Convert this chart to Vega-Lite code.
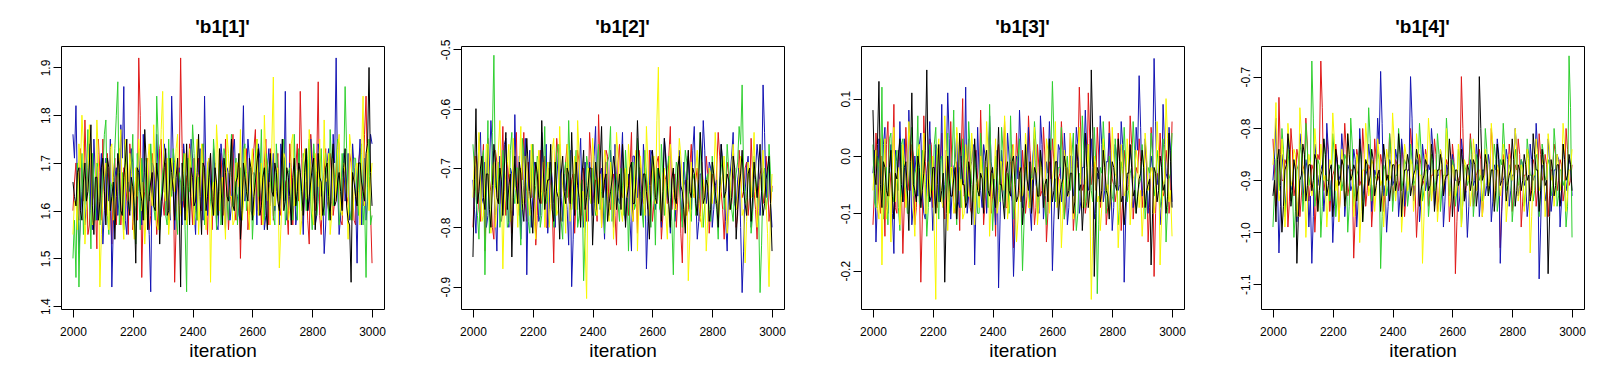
{
"$schema":"https://vega.github.io/schema/vega-lite/v6.json",
"background":"white",
"padding":{"left":38,"top":17,"right":0,"bottom":0},
"spacing":77,
"bounds":"flush",
"config":{
 "view":{"stroke":"black","strokeWidth":1},
 "font":"Liberation Sans",
 "axis":{"domain":false,"grid":false,"ticks":true,"tickColor":"black","tickSize":8,"tickWidth":1,"labelFont":"Liberation Sans","labelFontSize":12,"labelColor":"black","titleFont":"Liberation Sans","titleFontSize":19,"titleFontWeight":"normal","titleColor":"black"},
 "axisX":{"labelPadding":18,"labelBaseline":"alphabetic","titleBaseline":"alphabetic","titleY":47,"format":"d"},
 "axisY":{"labelAngle":270,"labelAlign":"center","labelBaseline":"alphabetic","labelPadding":4,"title":null,"labelExpr":"datum.value < 0 ? '-' + format(-datum.value, '.1f') : format(datum.value, '.1f')"},
 "title":{"font":"Liberation Sans","fontSize":19,"fontWeight":"bold","color":"black","anchor":"middle","frame":"group","baseline":"alphabetic","offset":9},
 "line":{"strokeWidth":1,"clip":true}
},
"datasets":{
"p1":[
{"i":2000,"a":1.60,"b":1.76,"c":1.50,"d":1.55,"e":1.66},
{"i":2010,"a":1.70,"b":1.82,"c":1.46,"d":1.62,"e":1.61},
{"i":2020,"a":1.58,"b":1.51,"c":1.44,"d":1.74,"e":1.69},
{"i":2030,"a":1.66,"b":1.64,"c":1.72,"d":1.80,"e":1.58},
{"i":2040,"a":1.79,"b":1.57,"c":1.61,"d":1.53,"e":1.70},
{"i":2050,"a":1.55,"b":1.69,"c":1.77,"d":1.66,"e":1.64},
{"i":2060,"a":1.72,"b":1.60,"c":1.52,"d":1.71,"e":1.78},
{"i":2070,"a":1.63,"b":1.75,"c":1.66,"d":1.58,"e":1.55},
{"i":2080,"a":1.52,"b":1.58,"c":1.70,"d":1.79,"e":1.67},
{"i":2090,"a":1.68,"b":1.66,"c":1.57,"d":1.44,"e":1.62},
{"i":2100,"a":1.75,"b":1.53,"c":1.68,"d":1.63,"e":1.71},
{"i":2110,"a":1.59,"b":1.71,"c":1.79,"d":1.70,"e":1.57},
{"i":2120,"a":1.66,"b":1.62,"c":1.55,"d":1.56,"e":1.69},
{"i":2130,"a":1.53,"b":1.44,"c":1.65,"d":1.74,"e":1.63},
{"i":2140,"a":1.71,"b":1.67,"c":1.73,"d":1.61,"e":1.54},
{"i":2150,"a":1.64,"b":1.59,"c":1.87,"d":1.68,"e":1.72},
{"i":2160,"a":1.57,"b":1.78,"c":1.62,"d":1.77,"e":1.60},
{"i":2170,"a":1.69,"b":1.86,"c":1.56,"d":1.54,"e":1.67},
{"i":2180,"a":1.62,"b":1.55,"c":1.69,"d":1.65,"e":1.75},
{"i":2190,"a":1.74,"b":1.64,"c":1.60,"d":1.72,"e":1.59},
{"i":2200,"a":1.56,"b":1.70,"c":1.76,"d":1.58,"e":1.65},
{"i":2210,"a":1.67,"b":1.61,"c":1.53,"d":1.69,"e":1.49},
{"i":2220,"a":1.92,"b":1.73,"c":1.64,"d":1.75,"e":1.68},
{"i":2230,"a":1.46,"b":1.57,"c":1.71,"d":1.60,"e":1.62},
{"i":2240,"a":1.64,"b":1.68,"c":1.58,"d":1.53,"e":1.77},
{"i":2250,"a":1.71,"b":1.60,"c":1.67,"d":1.70,"e":1.56},
{"i":2260,"a":1.59,"b":1.43,"c":1.74,"d":1.64,"e":1.66},
{"i":2270,"a":1.68,"b":1.69,"c":1.61,"d":1.78,"e":1.61},
{"i":2280,"a":1.55,"b":1.76,"c":1.84,"d":1.57,"e":1.70},
{"i":2290,"a":1.73,"b":1.58,"c":1.56,"d":1.66,"e":1.53},
{"i":2300,"a":1.62,"b":1.65,"c":1.68,"d":1.85,"e":1.64},
{"i":2310,"a":1.70,"b":1.72,"c":1.59,"d":1.62,"e":1.73},
{"i":2320,"a":1.58,"b":1.62,"c":1.75,"d":1.55,"e":1.60},
{"i":2330,"a":1.65,"b":1.84,"c":1.63,"d":1.71,"e":1.68},
{"i":2340,"a":1.45,"b":1.56,"c":1.70,"d":1.64,"e":1.58},
{"i":2350,"a":1.69,"b":1.67,"c":1.55,"d":1.76,"e":1.71},
{"i":2360,"a":1.92,"b":1.61,"c":1.66,"d":1.60,"e":1.44},
{"i":2370,"a":1.61,"b":1.74,"c":1.72,"d":1.68,"e":1.65},
{"i":2380,"a":1.67,"b":1.58,"c":1.43,"d":1.57,"e":1.74},
{"i":2390,"a":1.74,"b":1.66,"c":1.64,"d":1.73,"e":1.57},
{"i":2400,"a":1.57,"b":1.71,"c":1.78,"d":1.62,"e":1.67},
{"i":2410,"a":1.66,"b":1.55,"c":1.60,"d":1.69,"e":1.62},
{"i":2420,"a":1.71,"b":1.68,"c":1.67,"d":1.55,"e":1.76},
{"i":2430,"a":1.60,"b":1.62,"c":1.73,"d":1.74,"e":1.55},
{"i":2440,"a":1.68,"b":1.84,"c":1.57,"d":1.63,"e":1.69},
{"i":2450,"a":1.55,"b":1.59,"c":1.69,"d":1.70,"e":1.63},
{"i":2460,"a":1.72,"b":1.66,"c":1.62,"d":1.45,"e":1.72},
{"i":2470,"a":1.63,"b":1.73,"c":1.75,"d":1.66,"e":1.59},
{"i":2480,"a":1.58,"b":1.57,"c":1.56,"d":1.78,"e":1.66},
{"i":2490,"a":1.69,"b":1.64,"c":1.70,"d":1.60,"e":1.73},
{"i":2500,"a":1.64,"b":1.70,"c":1.63,"d":1.67,"e":1.57},
{"i":2510,"a":1.75,"b":1.56,"c":1.71,"d":1.54,"e":1.68},
{"i":2520,"a":1.56,"b":1.68,"c":1.58,"d":1.72,"e":1.62},
{"i":2530,"a":1.67,"b":1.61,"c":1.76,"d":1.63,"e":1.75},
{"i":2540,"a":1.61,"b":1.75,"c":1.64,"d":1.58,"e":1.60},
{"i":2550,"a":1.70,"b":1.63,"c":1.57,"d":1.70,"e":1.67},
{"i":2560,"a":1.50,"b":1.58,"c":1.69,"d":1.77,"e":1.54},
{"i":2570,"a":1.66,"b":1.82,"c":1.73,"d":1.61,"e":1.70},
{"i":2580,"a":1.73,"b":1.65,"c":1.60,"d":1.68,"e":1.64},
{"i":2590,"a":1.59,"b":1.71,"c":1.68,"d":1.56,"e":1.71},
{"i":2600,"a":1.68,"b":1.59,"c":1.54,"d":1.73,"e":1.58},
{"i":2610,"a":1.77,"b":1.67,"c":1.72,"d":1.65,"e":1.66},
{"i":2620,"a":1.62,"b":1.74,"c":1.63,"d":1.59,"e":1.73},
{"i":2630,"a":1.57,"b":1.62,"c":1.77,"d":1.70,"e":1.61},
{"i":2640,"a":1.70,"b":1.56,"c":1.58,"d":1.80,"e":1.69},
{"i":2650,"a":1.64,"b":1.69,"c":1.70,"d":1.62,"e":1.56},
{"i":2660,"a":1.73,"b":1.61,"c":1.65,"d":1.57,"e":1.72},
{"i":2670,"a":1.58,"b":1.72,"c":1.59,"d":1.88,"e":1.63},
{"i":2680,"a":1.67,"b":1.64,"c":1.74,"d":1.66,"e":1.68},
{"i":2690,"a":1.61,"b":1.57,"c":1.62,"d":1.48,"e":1.60},
{"i":2700,"a":1.72,"b":1.70,"c":1.71,"d":1.64,"e":1.75},
{"i":2710,"a":1.66,"b":1.85,"c":1.57,"d":1.71,"e":1.62},
{"i":2720,"a":1.55,"b":1.63,"c":1.68,"d":1.58,"e":1.67},
{"i":2730,"a":1.69,"b":1.58,"c":1.63,"d":1.74,"e":1.57},
{"i":2740,"a":1.63,"b":1.71,"c":1.76,"d":1.61,"e":1.71},
{"i":2750,"a":1.74,"b":1.60,"c":1.58,"d":1.68,"e":1.64},
{"i":2760,"a":1.85,"b":1.68,"c":1.67,"d":1.55,"e":1.68},
{"i":2770,"a":1.58,"b":1.55,"c":1.72,"d":1.70,"e":1.59},
{"i":2780,"a":1.66,"b":1.73,"c":1.60,"d":1.63,"e":1.73},
{"i":2790,"a":1.53,"b":1.62,"c":1.75,"d":1.77,"e":1.63},
{"i":2800,"a":1.71,"b":1.68,"c":1.56,"d":1.60,"e":1.69},
{"i":2810,"a":1.60,"b":1.57,"c":1.69,"d":1.72,"e":1.56},
{"i":2820,"a":1.87,"b":1.74,"c":1.62,"d":1.65,"e":1.72},
{"i":2830,"a":1.55,"b":1.63,"c":1.73,"d":1.58,"e":1.66},
{"i":2840,"a":1.68,"b":1.51,"c":1.59,"d":1.79,"e":1.61},
{"i":2850,"a":1.62,"b":1.70,"c":1.66,"d":1.67,"e":1.70},
{"i":2860,"a":1.72,"b":1.60,"c":1.77,"d":1.55,"e":1.58},
{"i":2870,"a":1.59,"b":1.76,"c":1.61,"d":1.71,"e":1.74},
{"i":2880,"a":1.66,"b":1.92,"c":1.70,"d":1.62,"e":1.62},
{"i":2890,"a":1.74,"b":1.55,"c":1.57,"d":1.76,"e":1.68},
{"i":2900,"a":1.57,"b":1.67,"c":1.72,"d":1.59,"e":1.60},
{"i":2910,"a":1.69,"b":1.62,"c":1.86,"d":1.68,"e":1.73},
{"i":2920,"a":1.63,"b":1.72,"c":1.64,"d":1.54,"e":1.58},
{"i":2930,"a":1.70,"b":1.59,"c":1.58,"d":1.73,"e":1.45},
{"i":2940,"a":1.58,"b":1.69,"c":1.71,"d":1.64,"e":1.66},
{"i":2950,"a":1.66,"b":1.49,"c":1.63,"d":1.70,"e":1.61},
{"i":2960,"a":1.73,"b":1.75,"c":1.69,"d":1.57,"e":1.70},
{"i":2970,"a":1.61,"b":1.64,"c":1.57,"d":1.84,"e":1.64},
{"i":2980,"a":1.84,"b":1.58,"c":1.46,"d":1.66,"e":1.72},
{"i":2990,"a":1.67,"b":1.71,"c":1.75,"d":1.60,"e":1.90},
{"i":3000,"a":1.49,"b":1.74,"c":1.59,"d":1.70,"e":1.61},
{"i":2005,"a":1.66,"b":1.71,"c":1.58,"d":1.62,"e":1.63},
{"i":2015,"a":1.59,"b":1.64,"c":1.70,"d":1.56,"e":1.68},
{"i":2025,"a":1.73,"b":1.58,"c":1.61,"d":1.69,"e":1.60},
{"i":2035,"a":1.62,"b":1.70,"c":1.55,"d":1.74,"e":1.66},
{"i":2045,"a":1.68,"b":1.61,"c":1.67,"d":1.60,"e":1.62},
{"i":2055,"a":1.57,"b":1.74,"c":1.63,"d":1.78,"e":1.70},
{"i":2065,"a":1.70,"b":1.56,"c":1.72,"d":1.57,"e":1.61},
{"i":2075,"a":1.61,"b":1.67,"c":1.58,"d":1.65,"e":1.67},
{"i":2085,"a":1.75,"b":1.62,"c":1.69,"d":1.72,"e":1.58},
{"i":2095,"a":1.58,"b":1.72,"c":1.63,"d":1.55,"e":1.69},
{"i":2105,"a":1.66,"b":1.60,"c":1.76,"d":1.67,"e":1.64},
{"i":2115,"a":1.72,"b":1.68,"c":1.59,"d":1.61,"e":1.71},
{"i":2125,"a":1.60,"b":1.75,"c":1.66,"d":1.73,"e":1.60},
{"i":2135,"a":1.67,"b":1.57,"c":1.62,"d":1.58,"e":1.66},
{"i":2145,"a":1.57,"b":1.69,"c":1.80,"d":1.66,"e":1.63},
{"i":2155,"a":1.73,"b":1.63,"c":1.57,"d":1.71,"e":1.68},
{"i":2165,"a":1.62,"b":1.71,"c":1.68,"d":1.59,"e":1.59},
{"i":2175,"a":1.68,"b":1.58,"c":1.74,"d":1.75,"e":1.70},
{"i":2185,"a":1.55,"b":1.66,"c":1.61,"d":1.62,"e":1.62},
{"i":2195,"a":1.70,"b":1.73,"c":1.67,"d":1.68,"e":1.67},
{"i":2205,"a":1.63,"b":1.57,"c":1.59,"d":1.54,"e":1.61},
{"i":2215,"a":1.58,"b":1.69,"c":1.72,"d":1.63,"e":1.69},
{"i":2225,"a":1.80,"b":1.62,"c":1.56,"d":1.70,"e":1.64},
{"i":2235,"a":1.61,"b":1.76,"c":1.65,"d":1.66,"e":1.58},
{"i":2245,"a":1.69,"b":1.63,"c":1.71,"d":1.59,"e":1.70},
{"i":2255,"a":1.56,"b":1.55,"c":1.62,"d":1.74,"e":1.63},
{"i":2265,"a":1.72,"b":1.70,"c":1.68,"d":1.61,"e":1.68},
{"i":2275,"a":1.64,"b":1.61,"c":1.58,"d":1.69,"e":1.60},
{"i":2285,"a":1.60,"b":1.68,"c":1.75,"d":1.56,"e":1.66},
{"i":2295,"a":1.75,"b":1.59,"c":1.63,"d":1.77,"e":1.62},
{"i":2305,"a":1.59,"b":1.74,"c":1.70,"d":1.64,"e":1.69},
{"i":2315,"a":1.67,"b":1.65,"c":1.57,"d":1.71,"e":1.59},
{"i":2325,"a":1.62,"b":1.58,"c":1.66,"d":1.60,"e":1.71},
{"i":2335,"a":1.70,"b":1.72,"c":1.73,"d":1.67,"e":1.64},
{"i":2345,"a":1.57,"b":1.63,"c":1.60,"d":1.73,"e":1.67},
{"i":2355,"a":1.66,"b":1.69,"c":1.68,"d":1.58,"e":1.61},
{"i":2365,"a":1.73,"b":1.57,"c":1.62,"d":1.66,"e":1.70},
{"i":2375,"a":1.60,"b":1.70,"c":1.56,"d":1.72,"e":1.58},
{"i":2385,"a":1.68,"b":1.62,"c":1.71,"d":1.61,"e":1.65},
{"i":2395,"a":1.63,"b":1.75,"c":1.65,"d":1.68,"e":1.69},
{"i":2405,"a":1.71,"b":1.60,"c":1.72,"d":1.57,"e":1.61},
{"i":2415,"a":1.58,"b":1.67,"c":1.58,"d":1.75,"e":1.68},
{"i":2425,"a":1.65,"b":1.73,"c":1.66,"d":1.62,"e":1.63},
{"i":2435,"a":1.74,"b":1.58,"c":1.74,"d":1.68,"e":1.70},
{"i":2445,"a":1.61,"b":1.66,"c":1.61,"d":1.56,"e":1.60},
{"i":2455,"a":1.67,"b":1.71,"c":1.67,"d":1.71,"e":1.67},
{"i":2465,"a":1.56,"b":1.61,"c":1.59,"d":1.64,"e":1.62},
{"i":2475,"a":1.70,"b":1.68,"c":1.70,"d":1.59,"e":1.69},
{"i":2485,"a":1.63,"b":1.56,"c":1.64,"d":1.72,"e":1.59},
{"i":2495,"a":1.72,"b":1.74,"c":1.57,"d":1.66,"e":1.66},
{"i":2505,"a":1.59,"b":1.63,"c":1.73,"d":1.61,"e":1.71},
{"i":2515,"a":1.66,"b":1.69,"c":1.62,"d":1.76,"e":1.63},
{"i":2525,"a":1.62,"b":1.58,"c":1.68,"d":1.63,"e":1.68},
{"i":2535,"a":1.76,"b":1.72,"c":1.60,"d":1.57,"e":1.61},
{"i":2545,"a":1.58,"b":1.64,"c":1.71,"d":1.70,"e":1.66},
{"i":2555,"a":1.69,"b":1.59,"c":1.65,"d":1.65,"e":1.72},
{"i":2565,"a":1.63,"b":1.70,"c":1.58,"d":1.58,"e":1.60},
{"i":2575,"a":1.71,"b":1.62,"c":1.74,"d":1.73,"e":1.67},
{"i":2585,"a":1.56,"b":1.75,"c":1.63,"d":1.62,"e":1.62},
{"i":2595,"a":1.67,"b":1.60,"c":1.69,"d":1.68,"e":1.69},
{"i":2605,"a":1.73,"b":1.68,"c":1.61,"d":1.59,"e":1.63},
{"i":2615,"a":1.60,"b":1.57,"c":1.75,"d":1.75,"e":1.70},
{"i":2625,"a":1.68,"b":1.71,"c":1.66,"d":1.64,"e":1.59},
{"i":2635,"a":1.64,"b":1.65,"c":1.59,"d":1.57,"e":1.67},
{"i":2645,"a":1.75,"b":1.59,"c":1.72,"d":1.70,"e":1.61},
{"i":2655,"a":1.57,"b":1.73,"c":1.64,"d":1.66,"e":1.68},
{"i":2665,"a":1.69,"b":1.66,"c":1.70,"d":1.74,"e":1.64},
{"i":2675,"a":1.62,"b":1.60,"c":1.57,"d":1.61,"e":1.70},
{"i":2685,"a":1.72,"b":1.69,"c":1.68,"d":1.69,"e":1.62},
{"i":2695,"a":1.59,"b":1.74,"c":1.63,"d":1.56,"e":1.66},
{"i":2705,"a":1.67,"b":1.62,"c":1.75,"d":1.72,"e":1.60},
{"i":2715,"a":1.61,"b":1.58,"c":1.61,"d":1.65,"e":1.69},
{"i":2725,"a":1.74,"b":1.70,"c":1.69,"d":1.60,"e":1.63},
{"i":2735,"a":1.57,"b":1.64,"c":1.58,"d":1.76,"e":1.67},
{"i":2745,"a":1.69,"b":1.57,"c":1.66,"d":1.63,"e":1.61},
{"i":2755,"a":1.62,"b":1.72,"c":1.73,"d":1.69,"e":1.70},
{"i":2765,"a":1.71,"b":1.63,"c":1.60,"d":1.58,"e":1.64},
{"i":2775,"a":1.64,"b":1.69,"c":1.67,"d":1.73,"e":1.68},
{"i":2785,"a":1.58,"b":1.60,"c":1.71,"d":1.62,"e":1.60},
{"i":2795,"a":1.76,"b":1.75,"c":1.62,"d":1.70,"e":1.66},
{"i":2805,"a":1.63,"b":1.66,"c":1.74,"d":1.57,"e":1.71},
{"i":2815,"a":1.70,"b":1.59,"c":1.59,"d":1.68,"e":1.62},
{"i":2825,"a":1.59,"b":1.71,"c":1.68,"d":1.75,"e":1.67},
{"i":2835,"a":1.66,"b":1.64,"c":1.64,"d":1.61,"e":1.59},
{"i":2845,"a":1.73,"b":1.57,"c":1.72,"d":1.66,"e":1.69},
{"i":2855,"a":1.60,"b":1.73,"c":1.58,"d":1.72,"e":1.63},
{"i":2865,"a":1.68,"b":1.62,"c":1.69,"d":1.59,"e":1.70},
{"i":2875,"a":1.62,"b":1.70,"c":1.63,"d":1.67,"e":1.61},
{"i":2885,"a":1.75,"b":1.65,"c":1.75,"d":1.73,"e":1.66},
{"i":2895,"a":1.58,"b":1.59,"c":1.61,"d":1.60,"e":1.64},
{"i":2905,"a":1.67,"b":1.72,"c":1.67,"d":1.70,"e":1.69},
{"i":2915,"a":1.61,"b":1.66,"c":1.73,"d":1.63,"e":1.61},
{"i":2925,"a":1.72,"b":1.58,"c":1.60,"d":1.76,"e":1.57},
{"i":2935,"a":1.64,"b":1.74,"c":1.66,"d":1.58,"e":1.68},
{"i":2945,"a":1.57,"b":1.63,"c":1.71,"d":1.69,"e":1.63},
{"i":2955,"a":1.70,"b":1.69,"c":1.59,"d":1.64,"e":1.70},
{"i":2965,"a":1.63,"b":1.57,"c":1.74,"d":1.72,"e":1.66},
{"i":2975,"a":1.76,"b":1.71,"c":1.62,"d":1.61,"e":1.62},
{"i":2985,"a":1.65,"b":1.62,"c":1.68,"d":1.75,"e":1.74},
{"i":2995,"a":1.60,"b":1.76,"c":1.57,"d":1.66,"e":1.68}
],
"p2":[
{"i":2000,"a":-0.80,"b":-0.72,"c":-0.66,"d":-0.75,"e":-0.85},
{"i":2010,"a":-0.68,"b":-0.81,"c":-0.75,"d":-0.70,"e":-0.60},
{"i":2020,"a":-0.77,"b":-0.66,"c":-0.82,"d":-0.64,"e":-0.74},
{"i":2030,"a":-0.71,"b":-0.75,"c":-0.69,"d":-0.79,"e":-0.68},
{"i":2040,"a":-0.84,"b":-0.69,"c":-0.88,"d":-0.72,"e":-0.77},
{"i":2050,"a":-0.65,"b":-0.78,"c":-0.62,"d":-0.66,"e":-0.71},
{"i":2060,"a":-0.74,"b":-0.62,"c":-0.77,"d":-0.81,"e":-0.80},
{"i":2070,"a":-0.82,"b":-0.73,"c":-0.51,"d":-0.69,"e":-0.66},
{"i":2080,"a":-0.69,"b":-0.84,"c":-0.74,"d":-0.76,"e":-0.75},
{"i":2090,"a":-0.76,"b":-0.68,"c":-0.80,"d":-0.62,"e":-0.70},
{"i":2100,"a":-0.63,"b":-0.77,"c":-0.67,"d":-0.87,"e":-0.78},
{"i":2110,"a":-0.78,"b":-0.65,"c":-0.72,"d":-0.71,"e":-0.64},
{"i":2120,"a":-0.72,"b":-0.80,"c":-0.79,"d":-0.66,"e":-0.73},
{"i":2130,"a":-0.81,"b":-0.71,"c":-0.64,"d":-0.77,"e":-0.85},
{"i":2140,"a":-0.67,"b":-0.61,"c":-0.76,"d":-0.73,"e":-0.68},
{"i":2150,"a":-0.75,"b":-0.76,"c":-0.70,"d":-0.80,"e":-0.76},
{"i":2160,"a":-0.70,"b":-0.82,"c":-0.83,"d":-0.63,"e":-0.71},
{"i":2170,"a":-0.64,"b":-0.73,"c":-0.68,"d":-0.75,"e":-0.79},
{"i":2180,"a":-0.79,"b":-0.88,"c":-0.74,"d":-0.70,"e":-0.65},
{"i":2190,"a":-0.73,"b":-0.67,"c":-0.81,"d":-0.78,"e":-0.74},
{"i":2200,"a":-0.66,"b":-0.75,"c":-0.66,"d":-0.72,"e":-0.81},
{"i":2210,"a":-0.83,"b":-0.70,"c":-0.73,"d":-0.82,"e":-0.69},
{"i":2220,"a":-0.71,"b":-0.79,"c":-0.69,"d":-0.67,"e":-0.75},
{"i":2230,"a":-0.76,"b":-0.64,"c":-0.78,"d":-0.74,"e":-0.62},
{"i":2240,"a":-0.68,"b":-0.74,"c":-0.63,"d":-0.80,"e":-0.77},
{"i":2250,"a":-0.80,"b":-0.81,"c":-0.75,"d":-0.69,"e":-0.72},
{"i":2260,"a":-0.73,"b":-0.69,"c":-0.71,"d":-0.76,"e":-0.66},
{"i":2270,"a":-0.86,"b":-0.76,"c":-0.80,"d":-0.65,"e":-0.79},
{"i":2280,"a":-0.65,"b":-0.72,"c":-0.67,"d":-0.78,"e":-0.74},
{"i":2290,"a":-0.74,"b":-0.66,"c":-0.74,"d":-0.63,"e":-0.82},
{"i":2300,"a":-0.78,"b":-0.79,"c":-0.82,"d":-0.73,"e":-0.68},
{"i":2310,"a":-0.69,"b":-0.74,"c":-0.69,"d":-0.81,"e":-0.76},
{"i":2320,"a":-0.75,"b":-0.83,"c":-0.62,"d":-0.70,"e":-0.71},
{"i":2330,"a":-0.72,"b":-0.90,"c":-0.77,"d":-0.76,"e":-0.64},
{"i":2340,"a":-0.81,"b":-0.71,"c":-0.72,"d":-0.68,"e":-0.78},
{"i":2350,"a":-0.67,"b":-0.77,"c":-0.80,"d":-0.62,"e":-0.73},
{"i":2360,"a":-0.74,"b":-0.65,"c":-0.73,"d":-0.79,"e":-0.80},
{"i":2370,"a":-0.70,"b":-0.80,"c":-0.89,"d":-0.74,"e":-0.67},
{"i":2380,"a":-0.79,"b":-0.73,"c":-0.68,"d":-0.92,"e":-0.75},
{"i":2390,"a":-0.64,"b":-0.69,"c":-0.75,"d":-0.71,"e":-0.70},
{"i":2400,"a":-0.76,"b":-0.78,"c":-0.70,"d":-0.65,"e":-0.83},
{"i":2410,"a":-0.72,"b":-0.63,"c":-0.78,"d":-0.77,"e":-0.69},
{"i":2420,"a":-0.61,"b":-0.75,"c":-0.66,"d":-0.72,"e":-0.76},
{"i":2430,"a":-0.80,"b":-0.70,"c":-0.74,"d":-0.80,"e":-0.63},
{"i":2440,"a":-0.73,"b":-0.82,"c":-0.81,"d":-0.67,"e":-0.72},
{"i":2450,"a":-0.68,"b":-0.74,"c":-0.69,"d":-0.75,"e":-0.79},
{"i":2460,"a":-0.77,"b":-0.67,"c":-0.63,"d":-0.69,"e":-0.74},
{"i":2470,"a":-0.71,"b":-0.80,"c":-0.76,"d":-0.82,"e":-0.68},
{"i":2480,"a":-0.83,"b":-0.72,"c":-0.71,"d":-0.64,"e":-0.77},
{"i":2490,"a":-0.66,"b":-0.76,"c":-0.79,"d":-0.74,"e":-0.71},
{"i":2500,"a":-0.75,"b":-0.64,"c":-0.73,"d":-0.79,"e":-0.66},
{"i":2510,"a":-0.70,"b":-0.79,"c":-0.67,"d":-0.70,"e":-0.80},
{"i":2520,"a":-0.78,"b":-0.71,"c":-0.84,"d":-0.66,"e":-0.73},
{"i":2530,"a":-0.64,"b":-0.84,"c":-0.70,"d":-0.77,"e":-0.69},
{"i":2540,"a":-0.74,"b":-0.68,"c":-0.77,"d":-0.72,"e":-0.76},
{"i":2550,"a":-0.81,"b":-0.75,"c":-0.65,"d":-0.84,"e":-0.62},
{"i":2560,"a":-0.69,"b":-0.70,"c":-0.74,"d":-0.68,"e":-0.78},
{"i":2570,"a":-0.76,"b":-0.66,"c":-0.80,"d":-0.75,"e":-0.71},
{"i":2580,"a":-0.72,"b":-0.87,"c":-0.71,"d":-0.63,"e":-0.74},
{"i":2590,"a":-0.67,"b":-0.73,"c":-0.76,"d":-0.78,"e":-0.82},
{"i":2600,"a":-0.79,"b":-0.68,"c":-0.68,"d":-0.71,"e":-0.67},
{"i":2610,"a":-0.73,"b":-0.77,"c":-0.83,"d":-0.76,"e":-0.75},
{"i":2620,"a":-0.68,"b":-0.71,"c":-0.72,"d":-0.53,"e":-0.70},
{"i":2630,"a":-0.82,"b":-0.80,"c":-0.66,"d":-0.79,"e":-0.79},
{"i":2640,"a":-0.71,"b":-0.65,"c":-0.78,"d":-0.70,"e":-0.65},
{"i":2650,"a":-0.76,"b":-0.74,"c":-0.70,"d":-0.82,"e":-0.73},
{"i":2660,"a":-0.63,"b":-0.81,"c":-0.75,"d":-0.66,"e":-0.80},
{"i":2670,"a":-0.74,"b":-0.70,"c":-0.88,"d":-0.74,"e":-0.70},
{"i":2680,"a":-0.80,"b":-0.76,"c":-0.69,"d":-0.77,"e":-0.76},
{"i":2690,"a":-0.69,"b":-0.67,"c":-0.73,"d":-0.65,"e":-0.68},
{"i":2700,"a":-0.86,"b":-0.79,"c":-0.80,"d":-0.72,"e":-0.74},
{"i":2710,"a":-0.72,"b":-0.72,"c":-0.67,"d":-0.80,"e":-0.81},
{"i":2720,"a":-0.77,"b":-0.68,"c":-0.74,"d":-0.89,"e":-0.67},
{"i":2730,"a":-0.66,"b":-0.77,"c":-0.79,"d":-0.69,"e":-0.75},
{"i":2740,"a":-0.75,"b":-0.63,"c":-0.71,"d":-0.75,"e":-0.71},
{"i":2750,"a":-0.70,"b":-0.82,"c":-0.76,"d":-0.67,"e":-0.78},
{"i":2760,"a":-0.79,"b":-0.71,"c":-0.64,"d":-0.78,"e":-0.64},
{"i":2770,"a":-0.73,"b":-0.62,"c":-0.80,"d":-0.72,"e":-0.76},
{"i":2780,"a":-0.68,"b":-0.76,"c":-0.72,"d":-0.84,"e":-0.72},
{"i":2790,"a":-0.81,"b":-0.69,"c":-0.77,"d":-0.70,"e":-0.79},
{"i":2800,"a":-0.71,"b":-0.80,"c":-0.68,"d":-0.76,"e":-0.69},
{"i":2810,"a":-0.76,"b":-0.73,"c":-0.75,"d":-0.64,"e":-0.74},
{"i":2820,"a":-0.64,"b":-0.78,"c":-0.82,"d":-0.79,"e":-0.80},
{"i":2830,"a":-0.74,"b":-0.66,"c":-0.70,"d":-0.73,"e":-0.66},
{"i":2840,"a":-0.82,"b":-0.75,"c":-0.77,"d":-0.68,"e":-0.75},
{"i":2850,"a":-0.69,"b":-0.84,"c":-0.66,"d":-0.81,"e":-0.71},
{"i":2860,"a":-0.77,"b":-0.71,"c":-0.73,"d":-0.74,"e":-0.77},
{"i":2870,"a":-0.72,"b":-0.64,"c":-0.79,"d":-0.66,"e":-0.68},
{"i":2880,"a":-0.80,"b":-0.77,"c":-0.71,"d":-0.77,"e":-0.82},
{"i":2890,"a":-0.67,"b":-0.70,"c":-0.63,"d":-0.71,"e":-0.73},
{"i":2900,"a":-0.75,"b":-0.91,"c":-0.56,"d":-0.78,"e":-0.67},
{"i":2910,"a":-0.70,"b":-0.74,"c":-0.76,"d":-0.86,"e":-0.76},
{"i":2920,"a":-0.78,"b":-0.68,"c":-0.70,"d":-0.69,"e":-0.71},
{"i":2930,"a":-0.65,"b":-0.80,"c":-0.81,"d":-0.75,"e":-0.79},
{"i":2940,"a":-0.74,"b":-0.72,"c":-0.68,"d":-0.64,"e":-0.69},
{"i":2950,"a":-0.82,"b":-0.66,"c":-0.74,"d":-0.80,"e":-0.75},
{"i":2960,"a":-0.71,"b":-0.78,"c":-0.91,"d":-0.72,"e":-0.66},
{"i":2970,"a":-0.76,"b":-0.56,"c":-0.71,"d":-0.67,"e":-0.78},
{"i":2980,"a":-0.68,"b":-0.75,"c":-0.77,"d":-0.76,"e":-0.72},
{"i":2990,"a":-0.79,"b":-0.69,"c":-0.66,"d":-0.90,"e":-0.68},
{"i":3000,"a":-0.73,"b":-0.80,"c":-0.74,"d":-0.71,"e":-0.84},
{"i":2005,"a":-0.74,"b":-0.77,"c":-0.70,"d":-0.68,"e":-0.72},
{"i":2015,"a":-0.70,"b":-0.71,"c":-0.78,"d":-0.75,"e":-0.76},
{"i":2025,"a":-0.79,"b":-0.64,"c":-0.72,"d":-0.71,"e":-0.70},
{"i":2035,"a":-0.66,"b":-0.76,"c":-0.67,"d":-0.78,"e":-0.75},
{"i":2045,"a":-0.75,"b":-0.80,"c":-0.75,"d":-0.66,"e":-0.71},
{"i":2055,"a":-0.72,"b":-0.70,"c":-0.81,"d":-0.74,"e":-0.77},
{"i":2065,"a":-0.80,"b":-0.67,"c":-0.64,"d":-0.70,"e":-0.73},
{"i":2075,"a":-0.67,"b":-0.78,"c":-0.73,"d":-0.80,"e":-0.69},
{"i":2085,"a":-0.76,"b":-0.72,"c":-0.69,"d":-0.67,"e":-0.76},
{"i":2095,"a":-0.71,"b":-0.79,"c":-0.77,"d":-0.73,"e":-0.72},
{"i":2105,"a":-0.74,"b":-0.66,"c":-0.71,"d":-0.76,"e":-0.70},
{"i":2115,"a":-0.69,"b":-0.75,"c":-0.80,"d":-0.69,"e":-0.77},
{"i":2125,"a":-0.77,"b":-0.70,"c":-0.67,"d":-0.79,"e":-0.71},
{"i":2135,"a":-0.73,"b":-0.78,"c":-0.74,"d":-0.65,"e":-0.75},
{"i":2145,"a":-0.64,"b":-0.72,"c":-0.70,"d":-0.74,"e":-0.73},
{"i":2155,"a":-0.78,"b":-0.68,"c":-0.77,"d":-0.70,"e":-0.69},
{"i":2165,"a":-0.72,"b":-0.77,"c":-0.65,"d":-0.77,"e":-0.76},
{"i":2175,"a":-0.76,"b":-0.65,"c":-0.72,"d":-0.68,"e":-0.72},
{"i":2185,"a":-0.69,"b":-0.74,"c":-0.79,"d":-0.75,"e":-0.70},
{"i":2195,"a":-0.75,"b":-0.80,"c":-0.71,"d":-0.66,"e":-0.77},
{"i":2205,"a":-0.71,"b":-0.69,"c":-0.75,"d":-0.79,"e":-0.73},
{"i":2215,"a":-0.78,"b":-0.73,"c":-0.68,"d":-0.71,"e":-0.71},
{"i":2225,"a":-0.67,"b":-0.78,"c":-0.80,"d":-0.76,"e":-0.76},
{"i":2235,"a":-0.74,"b":-0.70,"c":-0.72,"d":-0.69,"e":-0.70},
{"i":2245,"a":-0.80,"b":-0.66,"c":-0.76,"d":-0.73,"e":-0.74},
{"i":2255,"a":-0.70,"b":-0.77,"c":-0.69,"d":-0.80,"e":-0.72},
{"i":2265,"a":-0.76,"b":-0.72,"c":-0.73,"d":-0.67,"e":-0.77},
{"i":2275,"a":-0.72,"b":-0.80,"c":-0.78,"d":-0.72,"e":-0.69},
{"i":2285,"a":-0.68,"b":-0.68,"c":-0.66,"d":-0.77,"e":-0.75},
{"i":2295,"a":-0.79,"b":-0.75,"c":-0.79,"d":-0.70,"e":-0.71},
{"i":2305,"a":-0.73,"b":-0.71,"c":-0.71,"d":-0.75,"e":-0.74},
{"i":2315,"a":-0.66,"b":-0.77,"c":-0.75,"d":-0.66,"e":-0.70},
{"i":2325,"a":-0.77,"b":-0.67,"c":-0.70,"d":-0.79,"e":-0.76},
{"i":2335,"a":-0.71,"b":-0.82,"c":-0.74,"d":-0.72,"e":-0.72},
{"i":2345,"a":-0.75,"b":-0.74,"c":-0.67,"d":-0.77,"e":-0.69},
{"i":2355,"a":-0.69,"b":-0.70,"c":-0.78,"d":-0.68,"e":-0.75},
{"i":2365,"a":-0.78,"b":-0.76,"c":-0.72,"d":-0.74,"e":-0.71},
{"i":2375,"a":-0.72,"b":-0.69,"c":-0.81,"d":-0.83,"e":-0.77},
{"i":2385,"a":-0.76,"b":-0.79,"c":-0.70,"d":-0.70,"e":-0.73},
{"i":2395,"a":-0.68,"b":-0.73,"c":-0.76,"d":-0.76,"e":-0.70},
{"i":2405,"a":-0.74,"b":-0.68,"c":-0.73,"d":-0.69,"e":-0.76},
{"i":2415,"a":-0.79,"b":-0.77,"c":-0.69,"d":-0.78,"e":-0.72},
{"i":2425,"a":-0.70,"b":-0.71,"c":-0.77,"d":-0.71,"e":-0.69},
{"i":2435,"a":-0.75,"b":-0.76,"c":-0.71,"d":-0.74,"e":-0.75},
{"i":2445,"a":-0.67,"b":-0.69,"c":-0.75,"d":-0.69,"e":-0.71},
{"i":2455,"a":-0.77,"b":-0.78,"c":-0.68,"d":-0.79,"e":-0.76},
{"i":2465,"a":-0.72,"b":-0.72,"c":-0.79,"d":-0.72,"e":-0.72},
{"i":2475,"a":-0.78,"b":-0.66,"c":-0.72,"d":-0.76,"e":-0.70},
{"i":2485,"a":-0.69,"b":-0.75,"c":-0.76,"d":-0.68,"e":-0.74},
{"i":2495,"a":-0.74,"b":-0.70,"c":-0.70,"d":-0.77,"e":-0.77},
{"i":2505,"a":-0.71,"b":-0.77,"c":-0.78,"d":-0.71,"e":-0.71},
{"i":2515,"a":-0.76,"b":-0.73,"c":-0.72,"d":-0.75,"e":-0.75},
{"i":2525,"a":-0.70,"b":-0.79,"c":-0.75,"d":-0.70,"e":-0.70},
{"i":2535,"a":-0.79,"b":-0.68,"c":-0.69,"d":-0.79,"e":-0.76},
{"i":2545,"a":-0.73,"b":-0.74,"c":-0.76,"d":-0.67,"e":-0.72},
{"i":2555,"a":-0.67,"b":-0.70,"c":-0.71,"d":-0.76,"e":-0.69},
{"i":2565,"a":-0.75,"b":-0.78,"c":-0.77,"d":-0.72,"e":-0.75},
{"i":2575,"a":-0.70,"b":-0.71,"c":-0.67,"d":-0.78,"e":-0.71},
{"i":2585,"a":-0.77,"b":-0.79,"c":-0.74,"d":-0.69,"e":-0.77},
{"i":2595,"a":-0.73,"b":-0.67,"c":-0.80,"d":-0.74,"e":-0.73},
{"i":2605,"a":-0.76,"b":-0.74,"c":-0.73,"d":-0.68,"e":-0.70},
{"i":2615,"a":-0.69,"b":-0.70,"c":-0.70,"d":-0.62,"e":-0.76},
{"i":2625,"a":-0.74,"b":-0.76,"c":-0.77,"d":-0.75,"e":-0.72},
{"i":2635,"a":-0.78,"b":-0.72,"c":-0.71,"d":-0.71,"e":-0.74},
{"i":2645,"a":-0.72,"b":-0.68,"c":-0.75,"d":-0.78,"e":-0.69},
{"i":2655,"a":-0.68,"b":-0.77,"c":-0.68,"d":-0.72,"e":-0.76},
{"i":2665,"a":-0.77,"b":-0.73,"c":-0.79,"d":-0.69,"e":-0.72},
{"i":2675,"a":-0.71,"b":-0.79,"c":-0.74,"d":-0.77,"e":-0.75},
{"i":2685,"a":-0.75,"b":-0.70,"c":-0.70,"d":-0.71,"e":-0.70},
{"i":2695,"a":-0.81,"b":-0.75,"c":-0.76,"d":-0.68,"e":-0.73},
{"i":2705,"a":-0.73,"b":-0.69,"c":-0.73,"d":-0.76,"e":-0.77},
{"i":2715,"a":-0.78,"b":-0.76,"c":-0.69,"d":-0.72,"e":-0.71},
{"i":2725,"a":-0.70,"b":-0.72,"c":-0.77,"d":-0.82,"e":-0.74},
{"i":2735,"a":-0.74,"b":-0.67,"c":-0.72,"d":-0.73,"e":-0.70},
{"i":2745,"a":-0.72,"b":-0.75,"c":-0.78,"d":-0.70,"e":-0.76},
{"i":2755,"a":-0.76,"b":-0.79,"c":-0.70,"d":-0.75,"e":-0.72},
{"i":2765,"a":-0.69,"b":-0.71,"c":-0.74,"d":-0.80,"e":-0.69},
{"i":2775,"a":-0.75,"b":-0.67,"c":-0.76,"d":-0.74,"e":-0.75},
{"i":2785,"a":-0.71,"b":-0.74,"c":-0.71,"d":-0.79,"e":-0.73},
{"i":2795,"a":-0.77,"b":-0.70,"c":-0.79,"d":-0.71,"e":-0.77},
{"i":2805,"a":-0.73,"b":-0.77,"c":-0.72,"d":-0.73,"e":-0.71},
{"i":2815,"a":-0.70,"b":-0.72,"c":-0.77,"d":-0.69,"e":-0.76},
{"i":2825,"a":-0.68,"b":-0.75,"c":-0.73,"d":-0.76,"e":-0.73},
{"i":2835,"a":-0.77,"b":-0.69,"c":-0.68,"d":-0.71,"e":-0.70},
{"i":2845,"a":-0.74,"b":-0.79,"c":-0.74,"d":-0.74,"e":-0.74},
{"i":2855,"a":-0.71,"b":-0.73,"c":-0.70,"d":-0.78,"e":-0.72},
{"i":2865,"a":-0.76,"b":-0.68,"c":-0.77,"d":-0.70,"e":-0.75},
{"i":2875,"a":-0.70,"b":-0.76,"c":-0.73,"d":-0.72,"e":-0.70},
{"i":2885,"a":-0.78,"b":-0.72,"c":-0.69,"d":-0.75,"e":-0.77},
{"i":2895,"a":-0.72,"b":-0.80,"c":-0.66,"d":-0.68,"e":-0.71},
{"i":2905,"a":-0.74,"b":-0.84,"c":-0.71,"d":-0.77,"e":-0.74},
{"i":2915,"a":-0.69,"b":-0.70,"c":-0.75,"d":-0.79,"e":-0.78},
{"i":2925,"a":-0.75,"b":-0.73,"c":-0.72,"d":-0.72,"e":-0.70},
{"i":2935,"a":-0.71,"b":-0.77,"c":-0.78,"d":-0.70,"e":-0.75},
{"i":2945,"a":-0.77,"b":-0.70,"c":-0.71,"d":-0.74,"e":-0.72},
{"i":2955,"a":-0.73,"b":-0.69,"c":-0.77,"d":-0.77,"e":-0.70},
{"i":2965,"a":-0.70,"b":-0.74,"c":-0.83,"d":-0.71,"e":-0.74},
{"i":2975,"a":-0.74,"b":-0.64,"c":-0.70,"d":-0.74,"e":-0.76},
{"i":2985,"a":-0.72,"b":-0.71,"c":-0.75,"d":-0.81,"e":-0.70},
{"i":2995,"a":-0.76,"b":-0.76,"c":-0.71,"d":-0.77,"e":-0.76}
],
"p3":[
{"i":2000,"a":-0.12,"b":-0.03,"c":0.02,"d":-0.06,"e":0.08},
{"i":2010,"a":0.04,"b":-0.15,"c":-0.09,"d":0.01,"e":-0.05},
{"i":2020,"a":-0.08,"b":0.03,"c":-0.02,"d":-0.11,"e":0.13},
{"i":2030,"a":0.00,"b":-0.06,"c":0.12,"d":-0.19,"e":-0.09},
{"i":2040,"a":-0.14,"b":0.05,"c":-0.05,"d":0.03,"e":-0.02},
{"i":2050,"a":0.06,"b":-0.10,"c":-0.12,"d":-0.08,"e":-0.07},
{"i":2060,"a":-0.03,"b":0.02,"c":0.04,"d":-0.15,"e":0.01},
{"i":2070,"a":0.09,"b":-0.17,"c":-0.08,"d":0.05,"e":-0.11},
{"i":2080,"a":-0.10,"b":-0.01,"c":0.01,"d":-0.04,"e":-0.04},
{"i":2090,"a":-0.01,"b":0.06,"c":-0.13,"d":-0.12,"e":0.03},
{"i":2100,"a":-0.17,"b":-0.08,"c":0.03,"d":0.02,"e":-0.08},
{"i":2110,"a":0.05,"b":-0.04,"c":-0.06,"d":-0.09,"e":-0.01},
{"i":2120,"a":-0.06,"b":0.08,"c":-0.10,"d":0.06,"e":-0.13},
{"i":2130,"a":0.02,"b":-0.12,"c":0.05,"d":-0.03,"e":0.11},
{"i":2140,"a":-0.12,"b":0.00,"c":-0.03,"d":-0.14,"e":-0.06},
{"i":2150,"a":-0.02,"b":-0.07,"c":0.07,"d":0.01,"e":0.00},
{"i":2160,"a":-0.22,"b":0.04,"c":-0.09,"d":-0.07,"e":-0.09},
{"i":2170,"a":0.07,"b":-0.10,"c":-0.01,"d":0.04,"e":-0.03},
{"i":2180,"a":-0.05,"b":-0.03,"c":-0.14,"d":-0.10,"e":0.15},
{"i":2190,"a":0.03,"b":0.06,"c":0.02,"d":-0.05,"e":-0.08},
{"i":2200,"a":-0.09,"b":-0.13,"c":-0.06,"d":0.00,"e":-0.02},
{"i":2210,"a":0.01,"b":0.02,"c":0.05,"d":-0.25,"e":-0.10},
{"i":2220,"a":-0.07,"b":-0.08,"c":-0.11,"d":0.03,"e":0.02},
{"i":2230,"a":0.04,"b":0.09,"c":0.00,"d":-0.08,"e":-0.06},
{"i":2240,"a":-0.11,"b":-0.05,"c":-0.07,"d":0.07,"e":-0.22},
{"i":2250,"a":-0.03,"b":0.11,"c":0.04,"d":-0.13,"e":0.00},
{"i":2260,"a":0.06,"b":-0.11,"c":-0.04,"d":-0.02,"e":-0.07},
{"i":2270,"a":-0.08,"b":-0.02,"c":0.08,"d":-0.10,"e":-0.04},
{"i":2280,"a":-0.01,"b":0.04,"c":-0.12,"d":0.05,"e":-0.11},
{"i":2290,"a":-0.13,"b":-0.09,"c":-0.02,"d":-0.06,"e":0.04},
{"i":2300,"a":0.10,"b":-0.04,"c":0.03,"d":-0.11,"e":-0.05},
{"i":2310,"a":-0.06,"b":0.12,"c":-0.08,"d":0.02,"e":-0.09},
{"i":2320,"a":0.03,"b":-0.07,"c":0.06,"d":-0.07,"e":-0.01},
{"i":2330,"a":-0.10,"b":-0.01,"c":-0.05,"d":0.04,"e":-0.12},
{"i":2340,"a":0.00,"b":-0.19,"c":0.01,"d":-0.12,"e":0.03},
{"i":2350,"a":-0.04,"b":0.05,"c":-0.10,"d":-0.04,"e":-0.06},
{"i":2360,"a":0.08,"b":-0.06,"c":0.04,"d":0.00,"e":-0.03},
{"i":2370,"a":-0.12,"b":0.02,"c":-0.07,"d":-0.09,"e":-0.10},
{"i":2380,"a":-0.02,"b":-0.10,"c":-0.02,"d":0.06,"e":0.01},
{"i":2390,"a":0.05,"b":0.07,"c":0.09,"d":-0.14,"e":-0.07},
{"i":2400,"a":-0.07,"b":-0.03,"c":-0.13,"d":-0.03,"e":-0.02},
{"i":2410,"a":-0.14,"b":-0.12,"c":0.00,"d":0.03,"e":-0.09},
{"i":2420,"a":0.02,"b":-0.23,"c":-0.06,"d":-0.08,"e":0.05},
{"i":2430,"a":-0.05,"b":0.01,"c":0.05,"d":-0.01,"e":-0.05},
{"i":2440,"a":0.06,"b":-0.08,"c":-0.09,"d":0.07,"e":-0.11},
{"i":2450,"a":-0.09,"b":0.04,"c":-0.03,"d":-0.11,"e":-0.01},
{"i":2460,"a":-0.01,"b":-0.05,"c":0.07,"d":-0.05,"e":-0.07},
{"i":2470,"a":-0.16,"b":-0.21,"c":-0.11,"d":0.02,"e":0.00},
{"i":2480,"a":0.04,"b":0.00,"c":-0.01,"d":-0.15,"e":-0.08},
{"i":2490,"a":-0.06,"b":0.08,"c":0.03,"d":-0.02,"e":-0.03},
{"i":2500,"a":0.01,"b":-0.09,"c":-0.20,"d":-0.07,"e":-0.12},
{"i":2510,"a":-0.10,"b":-0.02,"c":0.02,"d":0.04,"e":0.02},
{"i":2520,"a":0.07,"b":0.05,"c":-0.07,"d":-0.09,"e":-0.06},
{"i":2530,"a":-0.03,"b":-0.13,"c":-0.04,"d":-0.04,"e":-0.10},
{"i":2540,"a":-0.12,"b":0.03,"c":0.06,"d":0.05,"e":-0.02},
{"i":2550,"a":0.02,"b":-0.06,"c":-0.10,"d":-0.12,"e":-0.07},
{"i":2560,"a":-0.07,"b":0.07,"c":0.01,"d":-0.01,"e":0.01},
{"i":2570,"a":0.05,"b":-0.11,"c":-0.05,"d":-0.06,"e":-0.09},
{"i":2580,"a":-0.15,"b":-0.01,"c":-0.12,"d":0.03,"e":-0.04},
{"i":2590,"a":-0.01,"b":0.06,"c":0.03,"d":-0.10,"e":0.03},
{"i":2600,"a":0.03,"b":-0.20,"c":0.13,"d":-0.04,"e":-0.08},
{"i":2610,"a":-0.08,"b":-0.04,"c":-0.08,"d":0.06,"e":-0.01},
{"i":2620,"a":-0.04,"b":0.02,"c":-0.02,"d":-0.08,"e":-0.11},
{"i":2630,"a":0.06,"b":-0.08,"c":0.05,"d":-0.16,"e":-0.05},
{"i":2640,"a":-0.11,"b":0.04,"c":-0.11,"d":0.01,"e":0.00},
{"i":2650,"a":-0.02,"b":-0.12,"c":0.00,"d":-0.07,"e":-0.07},
{"i":2660,"a":0.04,"b":0.00,"c":-0.06,"d":0.04,"e":-0.03},
{"i":2670,"a":-0.13,"b":-0.07,"c":0.04,"d":-0.11,"e":-0.10},
{"i":2680,"a":0.01,"b":0.05,"c":-0.13,"d":-0.02,"e":0.02},
{"i":2690,"a":0.12,"b":-0.10,"c":-0.03,"d":0.05,"e":-0.06},
{"i":2700,"a":-0.06,"b":-0.02,"c":0.07,"d":-0.09,"e":-0.13},
{"i":2710,"a":-0.10,"b":0.08,"c":-0.09,"d":-0.05,"e":0.04},
{"i":2720,"a":0.11,"b":-0.06,"c":0.02,"d":0.02,"e":-0.09},
{"i":2730,"a":-0.05,"b":0.03,"c":-0.06,"d":-0.25,"e":0.15},
{"i":2740,"a":-0.01,"b":-0.11,"c":0.05,"d":0.00,"e":-0.21},
{"i":2750,"a":0.05,"b":-0.03,"c":-0.24,"d":-0.08,"e":-0.02},
{"i":2760,"a":-0.09,"b":0.07,"c":-0.02,"d":-0.13,"e":-0.08},
{"i":2770,"a":0.02,"b":-0.08,"c":0.06,"d":0.03,"e":0.01},
{"i":2780,"a":-0.12,"b":-0.01,"c":-0.10,"d":-0.06,"e":-0.06},
{"i":2790,"a":0.06,"b":0.04,"c":0.00,"d":-0.10,"e":-0.11},
{"i":2800,"a":-0.04,"b":-0.13,"c":-0.07,"d":0.05,"e":-0.01},
{"i":2810,"a":-0.08,"b":0.02,"c":0.03,"d":-0.03,"e":-0.05},
{"i":2820,"a":0.04,"b":-0.06,"c":-0.12,"d":-0.16,"e":0.03},
{"i":2830,"a":-0.13,"b":0.06,"c":-0.01,"d":0.02,"e":-0.08},
{"i":2840,"a":0.01,"b":-0.22,"c":0.05,"d":-0.07,"e":-0.12},
{"i":2850,"a":-0.06,"b":-0.04,"c":-0.08,"d":0.03,"e":-0.03},
{"i":2860,"a":0.07,"b":0.01,"c":-0.03,"d":-0.12,"e":0.02},
{"i":2870,"a":-0.11,"b":-0.09,"c":0.06,"d":-0.04,"e":-0.07},
{"i":2880,"a":-0.02,"b":0.05,"c":-0.10,"d":0.01,"e":-0.10},
{"i":2890,"a":0.03,"b":0.14,"c":-0.05,"d":-0.09,"e":-0.04},
{"i":2900,"a":-0.09,"b":-0.07,"c":0.02,"d":-0.14,"e":0.01},
{"i":2910,"a":0.02,"b":0.03,"c":-0.11,"d":0.04,"e":-0.09},
{"i":2920,"a":-0.15,"b":-0.10,"c":-0.02,"d":-0.06,"e":-0.05},
{"i":2930,"a":0.05,"b":0.00,"c":0.04,"d":-0.02,"e":-0.19},
{"i":2940,"a":-0.21,"b":0.17,"c":-0.07,"d":-0.10,"e":-0.02},
{"i":2950,"a":-0.03,"b":-0.05,"c":0.01,"d":0.06,"e":-0.08},
{"i":2960,"a":0.04,"b":-0.12,"c":-0.09,"d":-0.19,"e":0.00},
{"i":2970,"a":-0.07,"b":0.09,"c":0.03,"d":-0.05,"e":-0.06},
{"i":2980,"a":0.01,"b":-0.03,"c":-0.15,"d":0.10,"e":-0.10},
{"i":2990,"a":-0.10,"b":0.05,"c":-0.04,"d":-0.08,"e":0.04},
{"i":3000,"a":0.06,"b":-0.08,"c":0.04,"d":-0.14,"e":-0.09},
{"i":2005,"a":-0.06,"b":0.01,"c":-0.08,"d":-0.02,"e":-0.03},
{"i":2015,"a":-0.01,"b":-0.08,"c":0.00,"d":-0.09,"e":0.02},
{"i":2025,"a":-0.10,"b":-0.03,"c":-0.06,"d":0.03,"e":-0.05},
{"i":2035,"a":-0.04,"b":0.02,"c":-0.11,"d":-0.05,"e":-0.01},
{"i":2045,"a":0.02,"b":-0.09,"c":-0.02,"d":-0.11,"e":-0.06},
{"i":2055,"a":-0.07,"b":-0.04,"c":0.03,"d":-0.03,"e":-0.02},
{"i":2065,"a":-0.02,"b":-0.10,"c":-0.06,"d":0.00,"e":-0.07},
{"i":2075,"a":-0.09,"b":0.01,"c":-0.01,"d":-0.08,"e":-0.03},
{"i":2085,"a":0.01,"b":-0.06,"c":-0.09,"d":-0.02,"e":0.00},
{"i":2095,"a":-0.05,"b":-0.02,"c":0.02,"d":-0.07,"e":-0.05},
{"i":2105,"a":-0.08,"b":0.03,"c":-0.05,"d":-0.01,"e":-0.02},
{"i":2115,"a":-0.02,"b":-0.07,"c":-0.10,"d":-0.06,"e":-0.06},
{"i":2125,"a":-0.06,"b":-0.01,"c":0.00,"d":0.01,"e":-0.01},
{"i":2135,"a":0.00,"b":-0.09,"c":-0.07,"d":-0.09,"e":-0.05},
{"i":2145,"a":-0.09,"b":-0.03,"c":-0.02,"d":-0.03,"e":-0.08},
{"i":2155,"a":-0.03,"b":0.02,"c":-0.08,"d":0.02,"e":-0.02},
{"i":2165,"a":-0.11,"b":-0.06,"c":0.01,"d":-0.06,"e":-0.06},
{"i":2175,"a":-0.01,"b":-0.11,"c":-0.05,"d":-0.10,"e":0.01},
{"i":2185,"a":-0.07,"b":0.00,"c":-0.09,"d":-0.01,"e":-0.04},
{"i":2195,"a":0.02,"b":-0.05,"c":-0.03,"d":-0.07,"e":-0.07},
{"i":2205,"a":-0.05,"b":-0.08,"c":0.02,"d":-0.13,"e":-0.02},
{"i":2215,"a":-0.09,"b":0.01,"c":-0.06,"d":0.00,"e":-0.05},
{"i":2225,"a":-0.02,"b":-0.04,"c":-0.01,"d":-0.05,"e":-0.08},
{"i":2235,"a":-0.06,"b":-0.09,"c":-0.08,"d":-0.09,"e":-0.03},
{"i":2245,"a":0.01,"b":-0.02,"c":-0.03,"d":0.01,"e":-0.10},
{"i":2255,"a":-0.08,"b":0.03,"c":-0.10,"d":-0.06,"e":-0.04},
{"i":2265,"a":-0.03,"b":-0.06,"c":0.00,"d":-0.02,"e":-0.07},
{"i":2275,"a":-0.10,"b":-0.01,"c":-0.07,"d":-0.08,"e":-0.02},
{"i":2285,"a":-0.04,"b":-0.08,"c":-0.03,"d":0.02,"e":-0.06},
{"i":2295,"a":0.00,"b":0.00,"c":-0.09,"d":-0.04,"e":-0.01},
{"i":2305,"a":-0.07,"b":-0.05,"c":-0.01,"d":-0.10,"e":-0.05},
{"i":2315,"a":-0.02,"b":-0.10,"c":-0.06,"d":-0.02,"e":-0.08},
{"i":2325,"a":-0.09,"b":-0.02,"c":0.01,"d":-0.07,"e":-0.03},
{"i":2335,"a":-0.05,"b":0.02,"c":-0.08,"d":0.00,"e":-0.06},
{"i":2345,"a":0.01,"b":-0.07,"c":-0.04,"d":-0.05,"e":-0.02},
{"i":2355,"a":-0.06,"b":-0.03,"c":-0.10,"d":-0.09,"e":-0.07},
{"i":2365,"a":-0.01,"b":-0.09,"c":0.00,"d":-0.03,"e":-0.04},
{"i":2375,"a":-0.08,"b":0.00,"c":-0.05,"d":-0.06,"e":-0.01},
{"i":2385,"a":-0.03,"b":-0.05,"c":-0.09,"d":0.01,"e":-0.06},
{"i":2395,"a":-0.10,"b":-0.01,"c":-0.02,"d":-0.08,"e":-0.03},
{"i":2405,"a":-0.04,"b":-0.07,"c":-0.07,"d":-0.04,"e":-0.07},
{"i":2415,"a":0.00,"b":0.01,"c":-0.03,"d":-0.10,"e":-0.02},
{"i":2425,"a":-0.07,"b":-0.11,"c":-0.08,"d":-0.01,"e":-0.05},
{"i":2435,"a":-0.02,"b":-0.03,"c":0.01,"d":-0.06,"e":-0.08},
{"i":2445,"a":-0.09,"b":-0.06,"c":-0.05,"d":0.02,"e":-0.03},
{"i":2455,"a":-0.04,"b":0.00,"c":-0.10,"d":-0.08,"e":-0.06},
{"i":2465,"a":0.02,"b":-0.08,"c":-0.02,"d":-0.03,"e":-0.01},
{"i":2475,"a":-0.06,"b":-0.12,"c":-0.06,"d":-0.07,"e":-0.05},
{"i":2485,"a":-0.01,"b":-0.04,"c":0.00,"d":-0.11,"e":-0.07},
{"i":2495,"a":-0.08,"b":0.01,"c":-0.07,"d":-0.02,"e":-0.02},
{"i":2505,"a":-0.03,"b":-0.06,"c":-0.12,"d":-0.05,"e":-0.08},
{"i":2515,"a":-0.07,"b":-0.02,"c":-0.03,"d":0.00,"e":-0.04},
{"i":2525,"a":0.01,"b":-0.09,"c":-0.08,"d":-0.09,"e":-0.01},
{"i":2535,"a":-0.05,"b":0.00,"c":-0.01,"d":-0.04,"e":-0.06},
{"i":2545,"a":-0.09,"b":-0.05,"c":0.02,"d":-0.01,"e":-0.03},
{"i":2555,"a":-0.02,"b":-0.10,"c":-0.06,"d":-0.08,"e":-0.07},
{"i":2565,"a":-0.06,"b":0.02,"c":-0.03,"d":-0.03,"e":-0.02},
{"i":2575,"a":0.00,"b":-0.07,"c":-0.09,"d":-0.07,"e":-0.05},
{"i":2585,"a":-0.10,"b":-0.03,"c":-0.04,"d":0.01,"e":-0.08},
{"i":2595,"a":-0.04,"b":-0.01,"c":0.01,"d":-0.06,"e":-0.03},
{"i":2605,"a":-0.01,"b":-0.11,"c":0.04,"d":-0.02,"e":-0.06},
{"i":2615,"a":-0.07,"b":-0.04,"c":-0.05,"d":-0.09,"e":-0.01},
{"i":2625,"a":-0.03,"b":0.01,"c":-0.02,"d":-0.04,"e":-0.07},
{"i":2635,"a":0.01,"b":-0.06,"c":-0.08,"d":-0.10,"e":-0.04},
{"i":2645,"a":-0.08,"b":-0.01,"c":-0.03,"d":-0.01,"e":-0.02},
{"i":2655,"a":-0.04,"b":-0.09,"c":-0.06,"d":-0.07,"e":-0.06},
{"i":2665,"a":-0.01,"b":0.00,"c":0.00,"d":-0.02,"e":-0.03},
{"i":2675,"a":-0.09,"b":-0.05,"c":-0.07,"d":-0.08,"e":-0.08},
{"i":2685,"a":-0.02,"b":0.02,"c":-0.10,"d":0.00,"e":-0.01},
{"i":2695,"a":0.04,"b":-0.08,"c":-0.04,"d":-0.05,"e":-0.05},
{"i":2705,"a":-0.05,"b":-0.02,"c":0.01,"d":-0.09,"e":-0.08},
{"i":2715,"a":-0.08,"b":0.01,"c":-0.06,"d":-0.03,"e":-0.02},
{"i":2725,"a":0.03,"b":-0.05,"c":-0.02,"d":-0.06,"e":-0.06},
{"i":2735,"a":-0.03,"b":-0.02,"c":-0.08,"d":-0.14,"e":0.04},
{"i":2745,"a":-0.06,"b":-0.08,"c":-0.01,"d":-0.02,"e":-0.10},
{"i":2755,"a":0.00,"b":-0.04,"c":-0.12,"d":-0.07,"e":-0.03},
{"i":2765,"a":-0.07,"b":0.02,"c":-0.03,"d":-0.09,"e":-0.06},
{"i":2775,"a":-0.02,"b":-0.06,"c":0.01,"d":-0.01,"e":-0.02},
{"i":2785,"a":-0.09,"b":-0.01,"c":-0.07,"d":-0.05,"e":-0.07},
{"i":2795,"a":0.01,"b":-0.03,"c":-0.04,"d":-0.08,"e":-0.05},
{"i":2805,"a":-0.05,"b":-0.09,"c":-0.08,"d":0.00,"e":-0.02},
{"i":2815,"a":-0.06,"b":0.00,"c":-0.01,"d":-0.04,"e":-0.06},
{"i":2825,"a":-0.01,"b":-0.05,"c":-0.09,"d":-0.10,"e":-0.01},
{"i":2835,"a":-0.08,"b":0.02,"c":-0.03,"d":-0.02,"e":-0.07},
{"i":2845,"a":-0.02,"b":-0.11,"c":-0.01,"d":-0.06,"e":-0.08},
{"i":2855,"a":-0.05,"b":-0.03,"c":-0.06,"d":-0.01,"e":-0.03},
{"i":2865,"a":0.02,"b":-0.01,"c":-0.02,"d":-0.08,"e":-0.02},
{"i":2875,"a":-0.07,"b":-0.07,"c":0.01,"d":-0.03,"e":-0.06},
{"i":2885,"a":-0.03,"b":0.01,"c":-0.07,"d":-0.01,"e":-0.07},
{"i":2895,"a":-0.01,"b":0.05,"c":-0.04,"d":-0.06,"e":-0.03},
{"i":2905,"a":-0.06,"b":-0.04,"c":-0.02,"d":-0.09,"e":-0.02},
{"i":2915,"a":-0.02,"b":-0.01,"c":-0.08,"d":0.00,"e":-0.06},
{"i":2925,"a":-0.09,"b":-0.06,"c":-0.03,"d":-0.05,"e":-0.04},
{"i":2935,"a":0.01,"b":-0.02,"c":0.00,"d":-0.03,"e":-0.10},
{"i":2945,"a":-0.10,"b":0.06,"c":-0.05,"d":-0.07,"e":-0.03},
{"i":2955,"a":-0.04,"b":-0.03,"c":-0.02,"d":0.01,"e":-0.06},
{"i":2965,"a":-0.01,"b":-0.08,"c":-0.07,"d":-0.11,"e":-0.02},
{"i":2975,"a":-0.06,"b":0.02,"c":-0.01,"d":-0.04,"e":-0.05},
{"i":2985,"a":-0.02,"b":-0.04,"c":-0.09,"d":0.03,"e":-0.07},
{"i":2995,"a":-0.07,"b":0.01,"c":-0.03,"d":-0.06,"e":-0.01}
],
"p4":[
{"i":2000,"a":-0.82,"b":-0.90,"c":-0.99,"d":-0.87,"e":-0.93},
{"i":2010,"a":-0.95,"b":-0.78,"c":-0.86,"d":-0.75,"e":-0.98},
{"i":2020,"a":-0.74,"b":-1.04,"c":-0.92,"d":-0.94,"e":-0.84},
{"i":2030,"a":-0.90,"b":-0.85,"c":-0.80,"d":-0.82,"e":-1.00},
{"i":2040,"a":-0.86,"b":-0.96,"c":-0.97,"d":-0.99,"e":-0.88},
{"i":2050,"a":-0.99,"b":-0.82,"c":-0.84,"d":-0.79,"e":-0.81},
{"i":2060,"a":-0.80,"b":-0.92,"c":-0.94,"d":-0.91,"e":-0.95},
{"i":2070,"a":-0.93,"b":-0.87,"c":-1.01,"d":-0.84,"e":-0.86},
{"i":2080,"a":-0.84,"b":-0.98,"c":-0.88,"d":-0.97,"e":-1.06},
{"i":2090,"a":-0.97,"b":-0.81,"c":-0.83,"d":-0.76,"e":-0.90},
{"i":2100,"a":-0.88,"b":-0.94,"c":-0.96,"d":-0.88,"e":-0.83},
{"i":2110,"a":-0.78,"b":-0.86,"c":-0.79,"d":-1.01,"e":-0.94},
{"i":2120,"a":-0.94,"b":-0.99,"c":-0.91,"d":-0.85,"e":-0.87},
{"i":2130,"a":-0.87,"b":-1.06,"c":-0.67,"d":-0.93,"e":-0.92},
{"i":2140,"a":-1.00,"b":-0.83,"c":-0.95,"d":-0.80,"e":-0.85},
{"i":2150,"a":-0.85,"b":-0.91,"c":-0.86,"d":-0.96,"e":-0.96},
{"i":2160,"a":-0.67,"b":-0.88,"c":-1.01,"d":-0.83,"e":-0.89},
{"i":2170,"a":-0.92,"b":-0.96,"c":-0.82,"d":-0.90,"e":-0.82},
{"i":2180,"a":-0.81,"b":-0.79,"c":-0.90,"d":-0.99,"e":-0.93},
{"i":2190,"a":-0.96,"b":-0.93,"c":-0.94,"d":-0.86,"e":-0.88},
{"i":2200,"a":-0.89,"b":-1.02,"c":-0.81,"d":-0.77,"e":-0.97},
{"i":2210,"a":-0.83,"b":-0.85,"c":-0.97,"d":-0.92,"e":-0.84},
{"i":2220,"a":-0.98,"b":-0.90,"c":-0.87,"d":-0.98,"e":-0.91},
{"i":2230,"a":-0.86,"b":-0.81,"c":-0.92,"d":-0.84,"e":-0.86},
{"i":2240,"a":-0.79,"b":-0.97,"c":-0.85,"d":-0.95,"e":-0.95},
{"i":2250,"a":-0.93,"b":-0.87,"c":-1.00,"d":-0.81,"e":-0.81},
{"i":2260,"a":-0.88,"b":-0.92,"c":-0.78,"d":-0.89,"e":-0.90},
{"i":2270,"a":-1.05,"b":-0.84,"c":-0.95,"d":-0.97,"e":-0.87},
{"i":2280,"a":-0.84,"b":-0.99,"c":-0.89,"d":-0.85,"e":-0.94},
{"i":2290,"a":-0.91,"b":-0.80,"c":-0.83,"d":-1.02,"e":-0.82},
{"i":2300,"a":-0.80,"b":-0.94,"c":-0.98,"d":-0.88,"e":-0.98},
{"i":2310,"a":-0.95,"b":-0.89,"c":-0.88,"d":-0.79,"e":-0.86},
{"i":2320,"a":-0.87,"b":-0.83,"c":-0.76,"d":-0.93,"e":-0.91},
{"i":2330,"a":-0.99,"b":-0.96,"c":-0.94,"d":-0.86,"e":-0.84},
{"i":2340,"a":-0.82,"b":-0.88,"c":-0.90,"d":-0.96,"e":-0.93},
{"i":2350,"a":-0.90,"b":-0.78,"c":-0.84,"d":-0.82,"e":-0.89},
{"i":2360,"a":-0.85,"b":-0.69,"c":-1.07,"d":-0.91,"e":-0.96},
{"i":2370,"a":-0.96,"b":-0.93,"c":-0.87,"d":-0.99,"e":-0.83},
{"i":2380,"a":-0.89,"b":-1.00,"c":-0.93,"d":-0.84,"e":-0.90},
{"i":2390,"a":-0.81,"b":-0.86,"c":-0.81,"d":-0.90,"e":-0.94},
{"i":2400,"a":-0.94,"b":-0.91,"c":-0.96,"d":-0.77,"e":-0.87},
{"i":2410,"a":-0.86,"b":-0.84,"c":-0.89,"d":-0.94,"e":-0.92},
{"i":2420,"a":-0.92,"b":-0.97,"c":-0.80,"d":-0.87,"e":-0.81},
{"i":2430,"a":-0.83,"b":-0.82,"c":-0.92,"d":-1.00,"e":-0.97},
{"i":2440,"a":-0.97,"b":-0.95,"c":-0.86,"d":-0.83,"e":-0.88},
{"i":2450,"a":-0.88,"b":-0.88,"c":-0.95,"d":-0.92,"e":-0.85},
{"i":2460,"a":-0.80,"b":-0.70,"c":-0.83,"d":-0.86,"e":-0.93},
{"i":2470,"a":-0.93,"b":-0.94,"c":-0.91,"d":-0.96,"e":-0.89},
{"i":2480,"a":-1.01,"b":-0.86,"c":-0.87,"d":-0.81,"e":-0.84},
{"i":2490,"a":-0.85,"b":-0.98,"c":-0.79,"d":-0.89,"e":-0.95},
{"i":2500,"a":-0.91,"b":-0.83,"c":-0.94,"d":-1.06,"e":-0.90},
{"i":2510,"a":-0.84,"b":-0.92,"c":-0.88,"d":-0.85,"e":-0.86},
{"i":2520,"a":-0.95,"b":-0.87,"c":-0.97,"d":-0.78,"e":-0.92},
{"i":2530,"a":-0.89,"b":-0.80,"c":-0.85,"d":-0.94,"e":-0.83},
{"i":2540,"a":-0.82,"b":-0.95,"c":-0.92,"d":-0.88,"e":-0.96},
{"i":2550,"a":-0.96,"b":-0.89,"c":-0.81,"d":-0.98,"e":-0.88},
{"i":2560,"a":-0.88,"b":-0.84,"c":-0.96,"d":-0.84,"e":-0.85},
{"i":2570,"a":-0.93,"b":-0.99,"c":-0.89,"d":-0.91,"e":-0.93},
{"i":2580,"a":-0.86,"b":-0.87,"c":-0.78,"d":-0.80,"e":-0.89},
{"i":2590,"a":-0.98,"b":-0.93,"c":-0.93,"d":-0.95,"e":-0.82},
{"i":2600,"a":-0.83,"b":-0.85,"c":-0.86,"d":-0.87,"e":-0.97},
{"i":2610,"a":-1.08,"b":-0.90,"c":-0.95,"d":-0.93,"e":-0.88},
{"i":2620,"a":-0.90,"b":-0.96,"c":-0.84,"d":-0.83,"e":-0.91},
{"i":2630,"a":-0.70,"b":-0.82,"c":-0.99,"d":-0.99,"e":-0.84},
{"i":2640,"a":-0.94,"b":-0.94,"c":-0.87,"d":-0.86,"e":-0.94},
{"i":2650,"a":-0.87,"b":-1.01,"c":-0.91,"d":-0.90,"e":-0.87},
{"i":2660,"a":-0.81,"b":-0.86,"c":-0.82,"d":-0.95,"e":-0.92},
{"i":2670,"a":-0.95,"b":-0.91,"c":-0.97,"d":-0.82,"e":-0.86},
{"i":2680,"a":-0.89,"b":-0.83,"c":-0.85,"d":-0.92,"e":-0.95},
{"i":2690,"a":-0.84,"b":-0.97,"c":-0.90,"d":-0.88,"e":-0.70},
{"i":2700,"a":-0.97,"b":-0.88,"c":-0.94,"d":-0.97,"e":-0.90},
{"i":2710,"a":-0.86,"b":-0.93,"c":-0.80,"d":-0.84,"e":-0.85},
{"i":2720,"a":-0.92,"b":-0.85,"c":-0.93,"d":-0.91,"e":-0.93},
{"i":2730,"a":-0.80,"b":-0.98,"c":-0.88,"d":-0.79,"e":-0.88},
{"i":2740,"a":-0.94,"b":-0.87,"c":-0.83,"d":-0.95,"e":-0.96},
{"i":2750,"a":-0.88,"b":-0.82,"c":-0.96,"d":-0.87,"e":-0.83},
{"i":2760,"a":-1.03,"b":-1.06,"c":-0.86,"d":-0.93,"e":-0.91},
{"i":2770,"a":-0.85,"b":-0.90,"c":-0.79,"d":-0.83,"e":-0.86},
{"i":2780,"a":-0.91,"b":-0.84,"c":-0.92,"d":-0.98,"e":-0.94},
{"i":2790,"a":-0.83,"b":-0.95,"c":-0.87,"d":-0.85,"e":-0.89},
{"i":2800,"a":-0.96,"b":-0.89,"c":-0.98,"d":-0.90,"e":-0.82},
{"i":2810,"a":-0.87,"b":-0.80,"c":-0.84,"d":-0.80,"e":-0.95},
{"i":2820,"a":-0.82,"b":-0.93,"c":-0.91,"d":-0.94,"e":-0.87},
{"i":2830,"a":-0.99,"b":-0.86,"c":-0.86,"d":-0.87,"e":-0.92},
{"i":2840,"a":-0.89,"b":-0.91,"c":-0.95,"d":-0.96,"e":-0.85},
{"i":2850,"a":-0.84,"b":-0.97,"c":-0.82,"d":-0.84,"e":-0.90},
{"i":2860,"a":-0.93,"b":-0.83,"c":-0.89,"d":-1.04,"e":-0.94},
{"i":2870,"a":-0.86,"b":-0.90,"c":-0.94,"d":-0.89,"e":-0.81},
{"i":2880,"a":-0.95,"b":-0.79,"c":-0.85,"d":-0.82,"e":-0.88},
{"i":2890,"a":-0.81,"b":-1.09,"c":-0.97,"d":-0.92,"e":-0.96},
{"i":2900,"a":-0.90,"b":-0.87,"c":-0.83,"d":-0.86,"e":-0.84},
{"i":2910,"a":-0.85,"b":-0.94,"c":-0.90,"d":-0.97,"e":-0.91},
{"i":2920,"a":-0.97,"b":-0.82,"c":-0.86,"d":-0.81,"e":-1.08},
{"i":2930,"a":-0.88,"b":-0.96,"c":-0.93,"d":-0.90,"e":-0.86},
{"i":2940,"a":-0.83,"b":-0.88,"c":-0.80,"d":-0.95,"e":-0.93},
{"i":2950,"a":-0.92,"b":-0.85,"c":-0.95,"d":-0.85,"e":-0.87},
{"i":2960,"a":-0.86,"b":-0.99,"c":-0.88,"d":-0.92,"e":-0.95},
{"i":2970,"a":-0.94,"b":-0.83,"c":-0.91,"d":-0.79,"e":-0.83},
{"i":2980,"a":-0.80,"b":-0.92,"c":-0.99,"d":-0.96,"e":-0.90},
{"i":2990,"a":-0.91,"b":-0.86,"c":-0.66,"d":-0.88,"e":-0.85},
{"i":3000,"a":-0.87,"b":-0.93,"c":-1.01,"d":-0.84,"e":-0.92},
{"i":2005,"a":-0.88,"b":-0.86,"c":-0.92,"d":-0.83,"e":-0.90},
{"i":2015,"a":-0.92,"b":-0.90,"c":-0.85,"d":-0.88,"e":-0.86},
{"i":2025,"a":-0.85,"b":-0.95,"c":-0.89,"d":-0.92,"e":-0.91},
{"i":2035,"a":-0.90,"b":-0.88,"c":-0.84,"d":-0.86,"e":-0.95},
{"i":2045,"a":-0.87,"b":-0.92,"c":-0.93,"d":-0.94,"e":-0.87},
{"i":2055,"a":-0.94,"b":-0.85,"c":-0.88,"d":-0.83,"e":-0.84},
{"i":2065,"a":-0.84,"b":-0.91,"c":-0.91,"d":-0.90,"e":-0.92},
{"i":2075,"a":-0.91,"b":-0.87,"c":-0.96,"d":-0.85,"e":-0.88},
{"i":2085,"a":-0.86,"b":-0.94,"c":-0.87,"d":-0.93,"e":-0.97},
{"i":2095,"a":-0.93,"b":-0.84,"c":-0.85,"d":-0.81,"e":-0.89},
{"i":2105,"a":-0.87,"b":-0.90,"c":-0.92,"d":-0.89,"e":-0.85},
{"i":2115,"a":-0.83,"b":-0.88,"c":-0.84,"d":-0.95,"e":-0.91},
{"i":2125,"a":-0.91,"b":-0.93,"c":-0.89,"d":-0.87,"e":-0.87},
{"i":2135,"a":-0.88,"b":-0.97,"c":-0.78,"d":-0.91,"e":-0.90},
{"i":2145,"a":-0.94,"b":-0.86,"c":-0.92,"d":-0.84,"e":-0.86},
{"i":2155,"a":-0.86,"b":-0.89,"c":-0.87,"d":-0.93,"e":-0.92},
{"i":2165,"a":-0.76,"b":-0.87,"c":-0.95,"d":-0.86,"e":-0.88},
{"i":2175,"a":-0.90,"b":-0.92,"c":-0.85,"d":-0.89,"e":-0.85},
{"i":2185,"a":-0.85,"b":-0.84,"c":-0.90,"d":-0.94,"e":-0.91},
{"i":2195,"a":-0.92,"b":-0.90,"c":-0.91,"d":-0.87,"e":-0.87},
{"i":2205,"a":-0.88,"b":-0.95,"c":-0.85,"d":-0.82,"e":-0.93},
{"i":2215,"a":-0.86,"b":-0.87,"c":-0.93,"d":-0.90,"e":-0.86},
{"i":2225,"a":-0.93,"b":-0.89,"c":-0.88,"d":-0.93,"e":-0.90},
{"i":2235,"a":-0.87,"b":-0.85,"c":-0.90,"d":-0.86,"e":-0.87},
{"i":2245,"a":-0.84,"b":-0.93,"c":-0.86,"d":-0.92,"e":-0.92},
{"i":2255,"a":-0.91,"b":-0.88,"c":-0.95,"d":-0.85,"e":-0.85},
{"i":2265,"a":-0.88,"b":-0.91,"c":-0.83,"d":-0.89,"e":-0.89},
{"i":2275,"a":-0.97,"b":-0.86,"c":-0.91,"d":-0.93,"e":-0.88},
{"i":2285,"a":-0.86,"b":-0.94,"c":-0.88,"d":-0.87,"e":-0.91},
{"i":2295,"a":-0.90,"b":-0.85,"c":-0.85,"d":-0.96,"e":-0.86},
{"i":2305,"a":-0.85,"b":-0.91,"c":-0.93,"d":-0.88,"e":-0.93},
{"i":2315,"a":-0.92,"b":-0.88,"c":-0.88,"d":-0.83,"e":-0.87},
{"i":2325,"a":-0.88,"b":-0.86,"c":-0.82,"d":-0.91,"e":-0.89},
{"i":2335,"a":-0.94,"b":-0.92,"c":-0.91,"d":-0.87,"e":-0.86},
{"i":2345,"a":-0.86,"b":-0.89,"c":-0.89,"d":-0.92,"e":-0.91},
{"i":2355,"a":-0.89,"b":-0.83,"c":-0.86,"d":-0.85,"e":-0.88},
{"i":2365,"a":-0.87,"b":-0.79,"c":-0.97,"d":-0.90,"e":-0.92},
{"i":2375,"a":-0.92,"b":-0.91,"c":-0.88,"d":-0.94,"e":-0.86},
{"i":2385,"a":-0.89,"b":-0.95,"c":-0.91,"d":-0.86,"e":-0.89},
{"i":2395,"a":-0.85,"b":-0.87,"c":-0.85,"d":-0.89,"e":-0.91},
{"i":2405,"a":-0.91,"b":-0.90,"c":-0.92,"d":-0.82,"e":-0.87},
{"i":2415,"a":-0.87,"b":-0.86,"c":-0.89,"d":-0.91,"e":-0.90},
{"i":2425,"a":-0.90,"b":-0.93,"c":-0.84,"d":-0.87,"e":-0.85},
{"i":2435,"a":-0.86,"b":-0.85,"c":-0.90,"d":-0.95,"e":-0.92},
{"i":2445,"a":-0.93,"b":-0.91,"c":-0.87,"d":-0.85,"e":-0.88},
{"i":2455,"a":-0.88,"b":-0.88,"c":-0.92,"d":-0.90,"e":-0.87},
{"i":2465,"a":-0.84,"b":-0.78,"c":-0.86,"d":-0.87,"e":-0.91},
{"i":2475,"a":-0.91,"b":-0.92,"c":-0.90,"d":-0.92,"e":-0.88},
{"i":2485,"a":-0.95,"b":-0.87,"c":-0.88,"d":-0.84,"e":-0.86},
{"i":2495,"a":-0.87,"b":-0.94,"c":-0.84,"d":-0.89,"e":-0.92},
{"i":2505,"a":-0.90,"b":-0.86,"c":-0.92,"d":-0.97,"e":-0.89},
{"i":2515,"a":-0.86,"b":-0.90,"c":-0.88,"d":-0.87,"e":-0.87},
{"i":2525,"a":-0.92,"b":-0.88,"c":-0.93,"d":-0.83,"e":-0.91},
{"i":2535,"a":-0.89,"b":-0.84,"c":-0.87,"d":-0.91,"e":-0.86},
{"i":2545,"a":-0.85,"b":-0.92,"c":-0.90,"d":-0.88,"e":-0.92},
{"i":2555,"a":-0.93,"b":-0.89,"c":-0.85,"d":-0.94,"e":-0.88},
{"i":2565,"a":-0.88,"b":-0.86,"c":-0.92,"d":-0.86,"e":-0.87},
{"i":2575,"a":-0.91,"b":-0.94,"c":-0.89,"d":-0.90,"e":-0.90},
{"i":2585,"a":-0.87,"b":-0.88,"c":-0.83,"d":-0.84,"e":-0.89},
{"i":2595,"a":-0.94,"b":-0.91,"c":-0.91,"d":-0.92,"e":-0.86},
{"i":2605,"a":-0.86,"b":-0.87,"c":-0.87,"d":-0.88,"e":-0.92},
{"i":2615,"a":-0.98,"b":-0.90,"c":-0.92,"d":-0.91,"e":-0.88},
{"i":2625,"a":-0.89,"b":-0.93,"c":-0.86,"d":-0.86,"e":-0.90},
{"i":2635,"a":-0.80,"b":-0.85,"c":-0.94,"d":-0.94,"e":-0.87},
{"i":2645,"a":-0.92,"b":-0.92,"c":-0.88,"d":-0.87,"e":-0.91},
{"i":2655,"a":-0.87,"b":-0.95,"c":-0.90,"d":-0.89,"e":-0.88},
{"i":2665,"a":-0.85,"b":-0.87,"c":-0.85,"d":-0.92,"e":-0.90},
{"i":2675,"a":-0.92,"b":-0.90,"c":-0.93,"d":-0.85,"e":-0.87},
{"i":2685,"a":-0.88,"b":-0.86,"c":-0.87,"d":-0.90,"e":-0.92},
{"i":2695,"a":-0.86,"b":-0.93,"c":-0.89,"d":-0.88,"e":-0.80},
{"i":2705,"a":-0.93,"b":-0.88,"c":-0.92,"d":-0.93,"e":-0.89},
{"i":2715,"a":-0.87,"b":-0.91,"c":-0.84,"d":-0.86,"e":-0.87},
{"i":2725,"a":-0.90,"b":-0.87,"c":-0.91,"d":-0.90,"e":-0.91},
{"i":2735,"a":-0.84,"b":-0.94,"c":-0.88,"d":-0.83,"e":-0.88},
{"i":2745,"a":-0.91,"b":-0.88,"c":-0.86,"d":-0.92,"e":-0.92},
{"i":2755,"a":-0.88,"b":-0.85,"c":-0.93,"d":-0.88,"e":-0.86},
{"i":2765,"a":-0.95,"b":-0.96,"c":-0.87,"d":-0.91,"e":-0.90},
{"i":2775,"a":-0.87,"b":-0.89,"c":-0.84,"d":-0.86,"e":-0.88},
{"i":2785,"a":-0.90,"b":-0.86,"c":-0.90,"d":-0.94,"e":-0.91},
{"i":2795,"a":-0.86,"b":-0.92,"c":-0.88,"d":-0.87,"e":-0.88},
{"i":2805,"a":-0.92,"b":-0.89,"c":-0.94,"d":-0.89,"e":-0.86},
{"i":2815,"a":-0.88,"b":-0.84,"c":-0.86,"d":-0.84,"e":-0.92},
{"i":2825,"a":-0.85,"b":-0.91,"c":-0.90,"d":-0.92,"e":-0.88},
{"i":2835,"a":-0.94,"b":-0.87,"c":-0.87,"d":-0.88,"e":-0.90},
{"i":2845,"a":-0.89,"b":-0.90,"c":-0.92,"d":-0.93,"e":-0.87},
{"i":2855,"a":-0.86,"b":-0.94,"c":-0.85,"d":-0.86,"e":-0.89},
{"i":2865,"a":-0.91,"b":-0.86,"c":-0.89,"d":-0.97,"e":-0.92},
{"i":2875,"a":-0.87,"b":-0.89,"c":-0.92,"d":-0.89,"e":-0.85},
{"i":2885,"a":-0.92,"b":-0.84,"c":-0.86,"d":-0.85,"e":-0.88},
{"i":2895,"a":-0.85,"b":-0.99,"c":-0.93,"d":-0.91,"e":-0.92},
{"i":2905,"a":-0.89,"b":-0.88,"c":-0.85,"d":-0.87,"e":-0.87},
{"i":2915,"a":-0.87,"b":-0.92,"c":-0.89,"d":-0.93,"e":-0.90},
{"i":2925,"a":-0.93,"b":-0.86,"c":-0.87,"d":-0.84,"e":-0.97},
{"i":2935,"a":-0.88,"b":-0.93,"c":-0.91,"d":-0.89,"e":-0.88},
{"i":2945,"a":-0.85,"b":-0.88,"c":-0.84,"d":-0.92,"e":-0.91},
{"i":2955,"a":-0.90,"b":-0.86,"c":-0.93,"d":-0.87,"e":-0.87},
{"i":2965,"a":-0.87,"b":-0.94,"c":-0.88,"d":-0.90,"e":-0.92},
{"i":2975,"a":-0.92,"b":-0.85,"c":-0.90,"d":-0.83,"e":-0.86},
{"i":2985,"a":-0.84,"b":-0.90,"c":-0.95,"d":-0.93,"e":-0.89},
{"i":2995,"a":-0.90,"b":-0.87,"c":-0.76,"d":-0.88,"e":-0.87}
]
},
"hconcat":[
{"title":{"text":"'b1[1]'"},"width":323,"height":263,"data":{"name":"p1"},
 "transform":[{"fold":["a","b","c","d","e"],"as":["k","v"]}],
 "mark":"line",
 "encoding":{
  "x":{"field":"i","type":"quantitative","scale":{"domain":[1960,3040],"nice":false,"zero":false},"axis":{"values":[2000,2200,2400,2600,2800,3000],"title":"iteration"}},
  "y":{"field":"v","type":"quantitative","scale":{"domain":[1.394,1.945],"nice":false,"zero":false},"axis":{"values":[1.4,1.5,1.6,1.7,1.8,1.9]}},
  "color":{"field":"k","type":"nominal","sort":["a","b","c","d","e"],"scale":{"domain":["a","b","c","d","e"],"range":["#e01818","#1414b4","#30d030","#f8f800","#000000"]},"legend":null}
 }},
{"title":{"text":"'b1[2]'","offset":2},"width":323,"height":263,"data":{"name":"p2"},
 "transform":[{"fold":["a","b","c","d","e"],"as":["k","v"]}],
 "mark":"line",
 "encoding":{
  "x":{"field":"i","type":"quantitative","scale":{"domain":[1960,3040],"nice":false,"zero":false},"axis":{"values":[2000,2200,2400,2600,2800,3000],"title":"iteration"}},
  "y":{"field":"v","type":"quantitative","scale":{"domain":[-0.9376,-0.4944],"nice":false,"zero":false},"axis":{"values":[-0.9,-0.8,-0.7,-0.6,-0.5]}},
  "color":{"field":"k","type":"nominal","sort":["a","b","c","d","e"],"scale":{"domain":["a","b","c","d","e"],"range":["#e01818","#1414b4","#30d030","#f8f800","#000000"]},"legend":null}
 }},
{"title":{"text":"'b1[3]'"},"width":323,"height":263,"data":{"name":"p3"},
 "transform":[{"fold":["a","b","c","d","e"],"as":["k","v"]}],
 "mark":"line",
 "encoding":{
  "x":{"field":"i","type":"quantitative","scale":{"domain":[1960,3040],"nice":false,"zero":false},"axis":{"values":[2000,2200,2400,2600,2800,3000],"title":"iteration"}},
  "y":{"field":"v","type":"quantitative","scale":{"domain":[-0.2667,0.1917],"nice":false,"zero":false},"axis":{"values":[-0.2,-0.1,0,0.1]}},
  "color":{"field":"k","type":"nominal","sort":["a","b","c","d","e"],"scale":{"domain":["a","b","c","d","e"],"range":["#e01818","#1414b4","#30d030","#f8f800","#000000"]},"legend":null}
 }},
{"title":{"text":"'b1[4]'"},"width":323,"height":263,"data":{"name":"p4"},
 "transform":[{"fold":["a","b","c","d","e"],"as":["k","v"]}],
 "mark":"line",
 "encoding":{
  "x":{"field":"i","type":"quantitative","scale":{"domain":[1960,3040],"nice":false,"zero":false},"axis":{"values":[2000,2200,2400,2600,2800,3000],"title":"iteration"}},
  "y":{"field":"v","type":"quantitative","scale":{"domain":[-1.148,-0.641],"nice":false,"zero":false},"axis":{"values":[-1.1,-1.0,-0.9,-0.8,-0.7]}},
  "color":{"field":"k","type":"nominal","sort":["a","b","c","d","e"],"scale":{"domain":["a","b","c","d","e"],"range":["#e01818","#1414b4","#30d030","#f8f800","#000000"]},"legend":null}
 }}
]
}
